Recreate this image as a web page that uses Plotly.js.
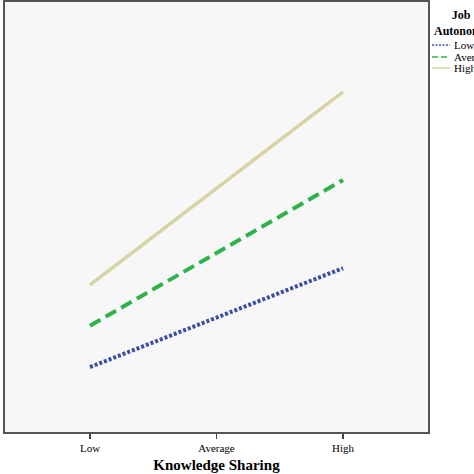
<!DOCTYPE html>
<html><head><meta charset="utf-8">
<script src="https://cdn.plot.ly/plotly-3.0.1.min.js"></script>
<style>html,body{margin:0;padding:0;background:#fff;}#chart{width:474px;height:474px;}</style>
</head><body><div id="chart"></div>
<script>
const categories = ["Low", "Average", "High"];
const xPoints = ["Low", "High"];
const seriesNames = ["Low", "Average", "High"];
const lowValues = [15.1, 38.1];
const averageValues = [24.7, 58.6];
const highValues = [34.2, 79.1];
const legendTitle = "Job<br>Autonomy";
const xTitle = "Knowledge Sharing";

const colors = ["#3b4ea3", "#2fb24a", "#d8d3a2"];
const dashes = ["3px,2px", "12px,6px", "solid"];
const legDashes = ["2px,1.5px", "6px,3px", "solid"];
const widths = [4, 4, 3.5];
const allValues = [lowValues, averageValues, highValues];

const traces = allValues.map((v, i) => ({
  x: xPoints, y: v, type: "scatter", mode: "lines", name: seriesNames[i],
  line: {color: colors[i], dash: dashes[i], width: widths[i]},
  showlegend: false, hoverinfo: "skip"
}));

// legend drawn in paper coordinates
const L = 5, R = 428, T = 2, B = 432;
const px = p => (p - L) / (R - L);
const py = p => (B - p) / (B - T);
const legY = [45, 57, 68];
const shapes = [];
const annotations = [{
  text: "<b>" + legendTitle + "</b>", x: px(461), y: py(6), xref: "paper", yref: "paper",
  xanchor: "center", yanchor: "top", showarrow: false, align: "center",
  font: {family: "Liberation Serif, serif", size: 12, color: "#000"}
}];
seriesNames.forEach((n, i) => {
  shapes.push({type: "line", xref: "paper", yref: "paper", x0: px(432), x1: px(450), y0: py(legY[i]), y1: py(legY[i]),
    line: {color: colors[i], dash: legDashes[i], width: 1.5}});
  annotations.push({text: n, x: px(452), y: py(legY[i]), xref: "paper", yref: "paper",
    xanchor: "left", yanchor: "middle", showarrow: false,
    font: {family: "Liberation Serif, serif", size: 11, color: "#000"}});
});

const layout = {
  width: 474, height: 474,
  margin: {l: L, r: 474 - R, t: T, b: 474 - B, autoexpand: false},
  paper_bgcolor: "#ffffff", plot_bgcolor: "#f7f7f7",
  font: {family: "Liberation Serif, serif", color: "#000"},
  xaxis: {
    type: "category", categoryorder: "array", categoryarray: categories,
    range: [-0.672, 2.672], showgrid: false, zeroline: false,
    ticks: "outside", ticklen: 5, tickcolor: "#444", tickwidth: 1.5,
    tickfont: {size: 11, family: "Liberation Serif, serif", color: "#000"},
    showline: true, linecolor: "#555", linewidth: 2, mirror: true,
    title: {text: "<b>" + xTitle + "</b>", font: {size: 15, family: "Liberation Serif, serif", color: "#000"}, standoff: 6}
  },
  yaxis: {
    range: [0, 100], showgrid: false, zeroline: false, showticklabels: false, ticks: "",
    showline: true, linecolor: "#555", linewidth: 2, mirror: true
  },
  shapes: shapes, annotations: annotations
};
Plotly.newPlot("chart", traces, layout, {displayModeBar: false, staticPlot: true});
</script></body></html>
